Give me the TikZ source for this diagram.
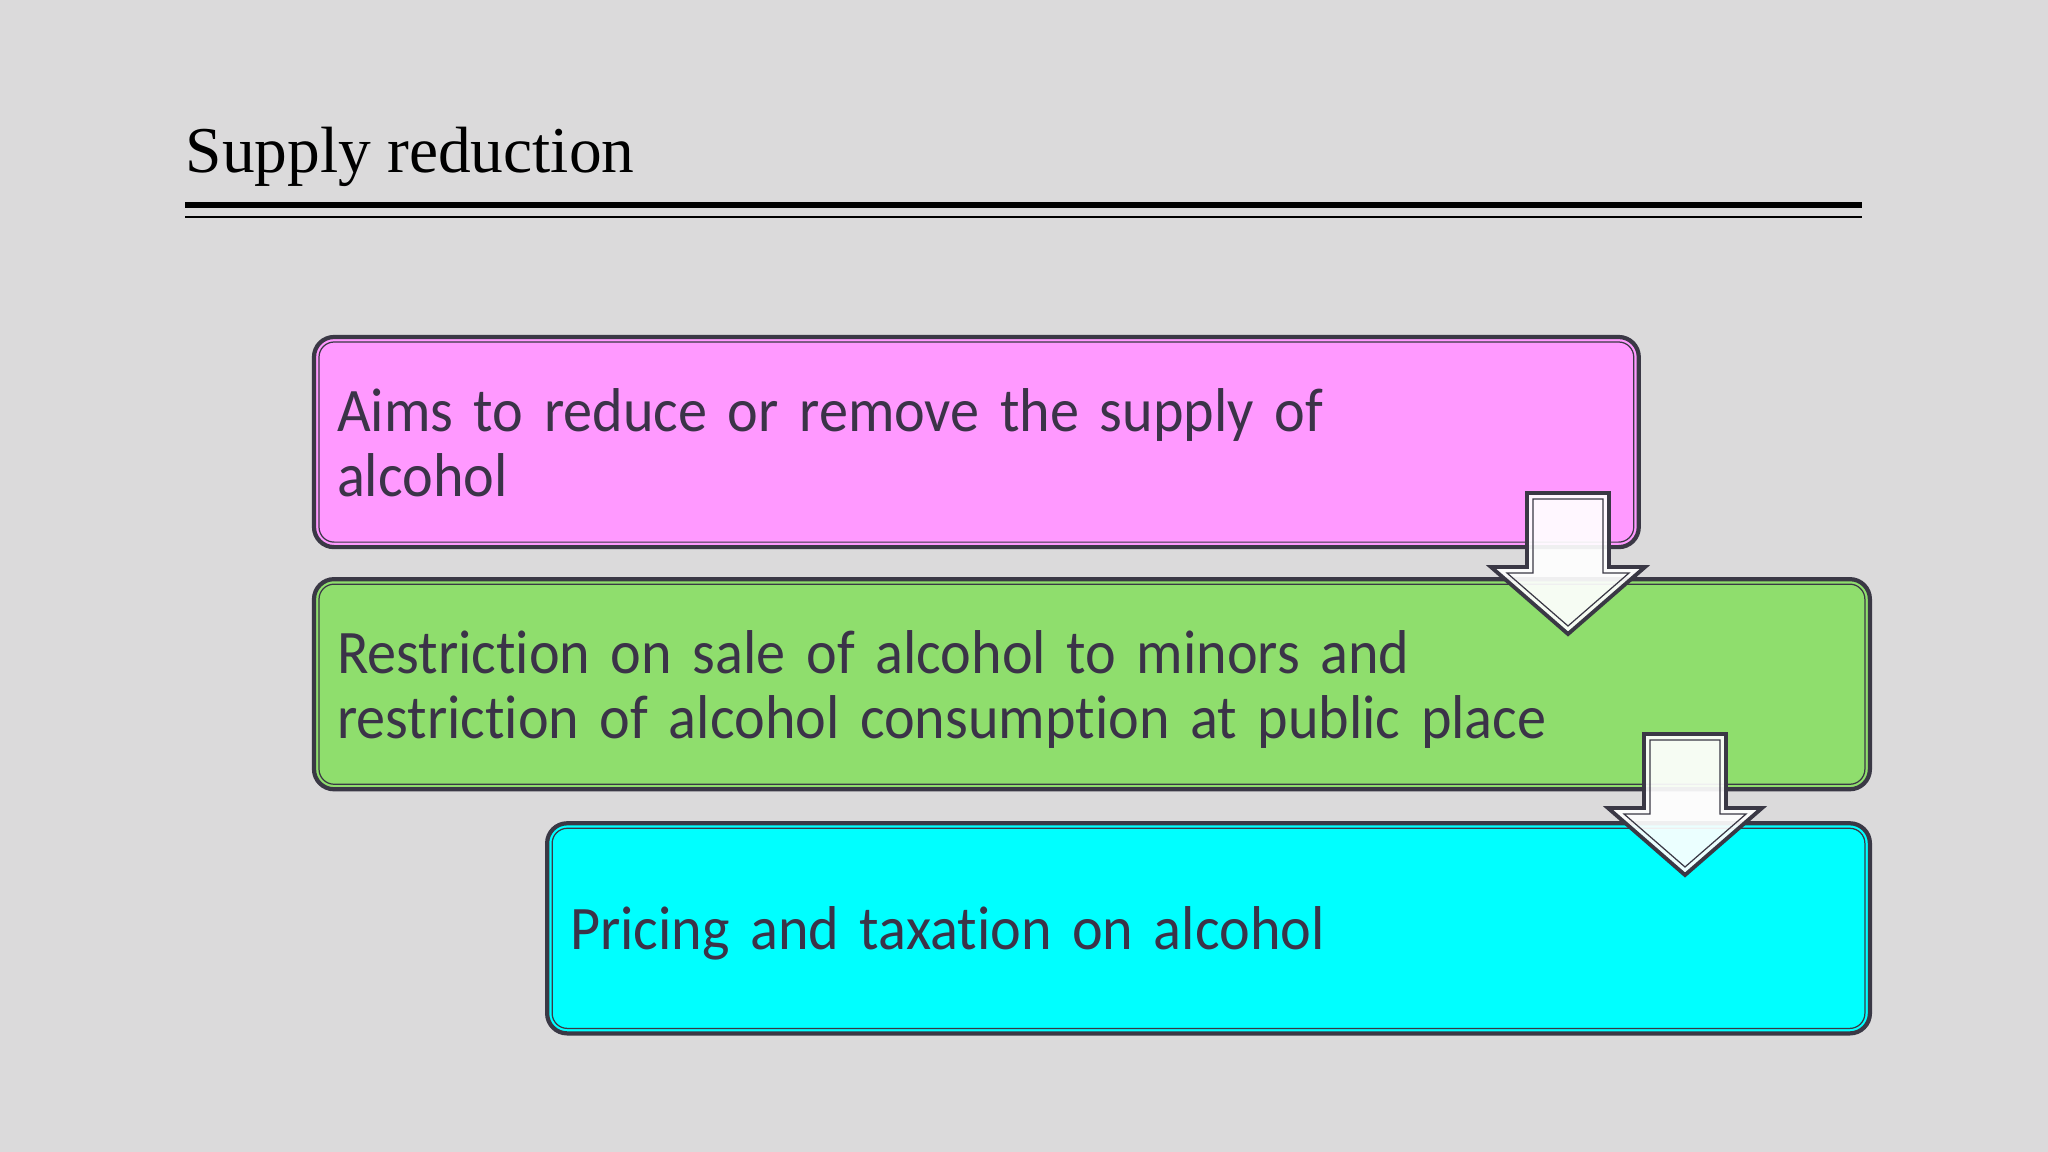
\documentclass[tikz,border=0pt]{standalone}
\usepackage{fontspec}
\setmainfont{Liberation Serif}
\newfontfamily\boxfont[Ligatures=NoCommon, WordSpace=0.5, FakeStretch=0.94]{Carlito}
\usetikzlibrary{positioning}

\definecolor{slidebg}{HTML}{DBDADB}
\definecolor{edgedark}{HTML}{3A3845}
\definecolor{textdark}{HTML}{3B3348}
\definecolor{pinkfill}{HTML}{FF99FF}
\definecolor{greenfill}{HTML}{8FDE6D}
\definecolor{cyanfill}{HTML}{00FFFF}

% last line of a box: keep its height, drop its depth
\newcommand{\flatline}[1]{\raisebox{0pt}[\height][0pt]{#1}}

\tikzset{
  stepbox/.style={draw=edgedark, line width=1.2pt, rounded corners=5.7pt,
    anchor=north west, inner xsep=0.23cm, inner ysep=0pt, outer sep=0pt, align=left,
    minimum height=2.10cm, text=textdark,
    font=\boxfont\fontsize{17.6}{18.5}\selectfont,
    path picture={\draw[edgedark, line width=0.35pt, rounded corners=4.3pt]
      ([shift={(0.05cm,0.05cm)}]path picture bounding box.south west) rectangle
      ([shift={(-0.05cm,-0.05cm)}]path picture bounding box.north east);}},
  downarrow/.style={draw=edgedark, line width=1.1pt, line join=miter},
}

\begin{document}
\begin{tikzpicture}[x=0.01cm, y=-0.01cm]
    \useasboundingbox (0,0) rectangle (2048,1152);
    \fill[slidebg] (0,0) rectangle (2048,1152);

    % title and rules
    \node[anchor=base west, inner sep=0pt, font=\fontsize{18.6}{21}\selectfont] (title) at (185,173) {Supply reduction};
    \draw[line width=1.7pt] (185,205) -- (1862,205);
    \draw[line width=0.45pt] (185,217) -- (1862,217);

    % the three steps
    \node[stepbox, fill=pinkfill, text width=12.78cm] (aims) at (314,337)
        {Aims to reduce or remove the supply of\\\flatline{alcohol}};
    \node[stepbox, fill=greenfill, text width=15.09cm, below=0.32cm of aims.south west, anchor=north west] (restrict)
        {Restriction on sale of alcohol to minors and\\\flatline{restriction of alcohol consumption at public place}};
    \node[stepbox, fill=cyanfill, text width=12.76cm, below=0.34cm of restrict.south east, anchor=north east] (pricing)
        {\flatline{Pricing and taxation on alcohol}};

    % block arrows between the steps
    \foreach \cx/\ty in {1568/493, 1685/734} {
        \fill[white, opacity=0.92] (\cx-41,\ty) -- (\cx+41,\ty) -- (\cx+41,\ty+74) -- (\cx+77,\ty+74)
            -- (\cx,\ty+141) -- (\cx-77,\ty+74) -- (\cx-41,\ty+74) -- cycle;
        \draw[downarrow] (\cx-41,\ty) -- (\cx+41,\ty) -- (\cx+41,\ty+74) -- (\cx+77,\ty+74)
            -- (\cx,\ty+141) -- (\cx-77,\ty+74) -- (\cx-41,\ty+74) -- cycle;
        \draw[edgedark, line width=0.35pt] (\cx-35,\ty+6) -- (\cx+35,\ty+6) -- (\cx+35,\ty+80) -- (\cx+61,\ty+80)
            -- (\cx,\ty+133) -- (\cx-61,\ty+80) -- (\cx-35,\ty+80) -- cycle;
    }
\end{tikzpicture}
\end{document}
